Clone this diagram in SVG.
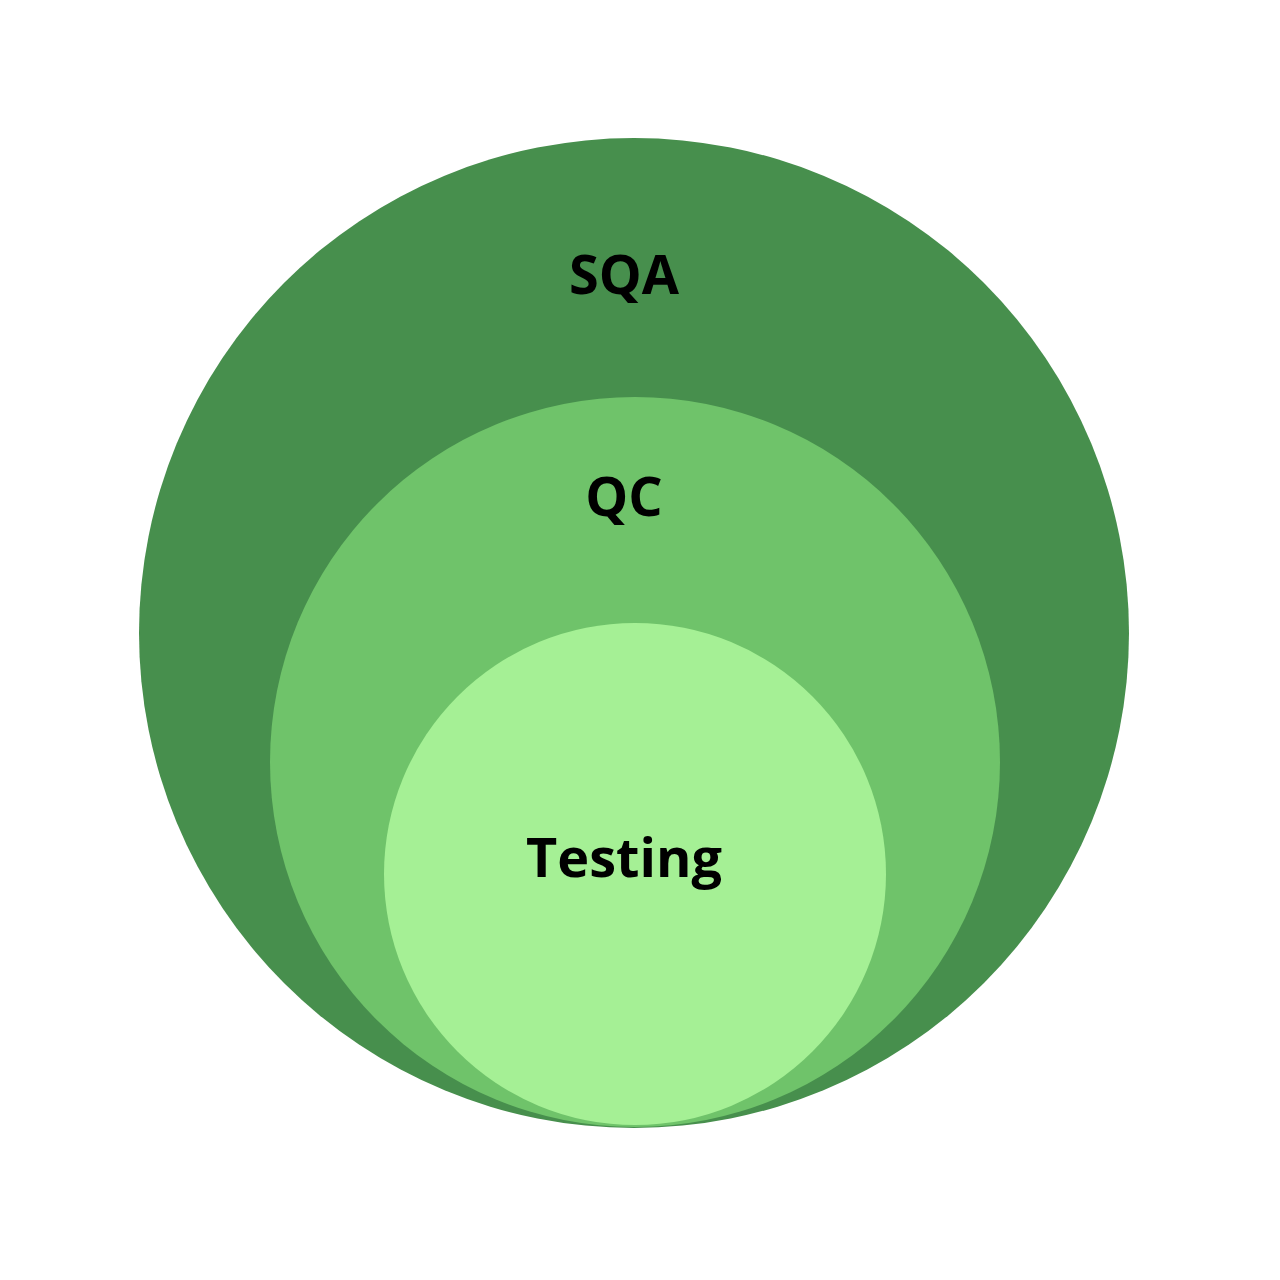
<svg xmlns="http://www.w3.org/2000/svg" width="1280" height="1280" viewBox="0 0 1280 1280">
<style>
.l{font-family:"Open Sans","Liberation Sans",sans-serif;font-weight:bold;font-size:54px;fill:#000;text-anchor:middle}
</style>
<rect width="1280" height="1280" fill="#fff"/>
<g id="sqa"><circle cx="634" cy="633" r="495" fill="#478F4D"/><text class="l" x="624" y="294">SQA</text></g>
<g id="qc"><circle cx="635" cy="762" r="365" fill="#6FC36A"/><text class="l" x="624" y="516">QC</text></g>
<g id="testing"><circle cx="635" cy="874" r="251" fill="#A5F095"/><text class="l" x="624" y="877">Testing</text></g>
<g id="connectors"/>
</svg>
